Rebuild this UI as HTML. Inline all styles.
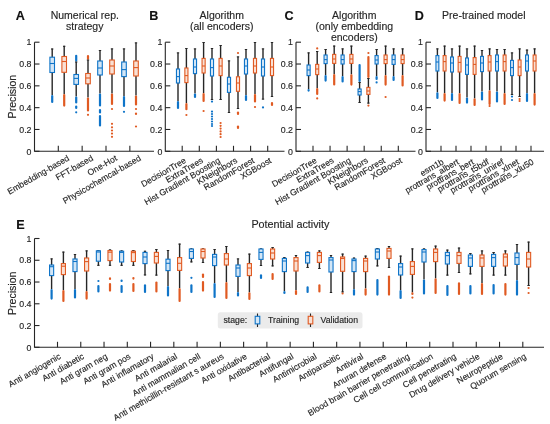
<!DOCTYPE html>
<html><head><meta charset="utf-8"><style>
html,body{margin:0;padding:0;background:#fff;}
svg{display:block;will-change:transform;}
text{font-family:"Liberation Sans",sans-serif;fill:#262626;stroke:#262626;stroke-width:0.15px;}
.tl{font-size:8.8px;}
.xl{font-size:8.6px;}
.ti{font-size:10.5px;}
.pl{font-size:12.6px;font-weight:bold;fill:#111;stroke:#111;}
.yl{font-size:10.6px;}
.lg{font-size:8.7px;}
</style></head><body>
<svg width="550" height="424" viewBox="0 0 550 424">
<text x="15.8" y="19.8" class="pl">A</text>
<text x="149.2" y="19.8" class="pl">B</text>
<text x="284.4" y="19.8" class="pl">C</text>
<text x="414.8" y="19.8" class="pl">D</text>
<text x="16.2" y="228.8" class="pl">E</text>
<text x="84.8" y="19.3" text-anchor="middle" class="ti">Numerical rep.</text>
<text x="84.8" y="29.9" text-anchor="middle" class="ti">strategy</text>
<text x="221.8" y="19.3" text-anchor="middle" class="ti">Algorithm</text>
<text x="221.8" y="29.9" text-anchor="middle" class="ti">(all encoders)</text>
<text x="354.3" y="19.3" text-anchor="middle" class="ti">Algorithm</text>
<text x="354.3" y="29.9" text-anchor="middle" class="ti">(only embedding</text>
<text x="354.3" y="40.5" text-anchor="middle" class="ti">encoders)</text>
<text x="483.8" y="19.3" text-anchor="middle" class="ti">Pre-trained model</text>
<text x="290.4" y="227.8" text-anchor="middle" class="ti" style="font-size:10.8px">Potential activity</text>
<text transform="translate(16,96.6) rotate(-90)" text-anchor="middle" class="yl">Precision</text>
<text transform="translate(16,293.3) rotate(-90)" text-anchor="middle" class="yl">Precision</text>
<path d="M34.5 42.2 V151.3 H154" fill="none" stroke="#262626" stroke-width="1.1"/>
<line x1="34.5" y1="151.30" x2="39.5" y2="151.30" stroke="#262626" stroke-width="1.1"/>
<text x="31.5" y="154.50" text-anchor="end" class="tl">0</text>
<line x1="34.5" y1="129.48" x2="39.5" y2="129.48" stroke="#262626" stroke-width="1.1"/>
<text x="31.5" y="132.68" text-anchor="end" class="tl">0.2</text>
<line x1="34.5" y1="107.66" x2="39.5" y2="107.66" stroke="#262626" stroke-width="1.1"/>
<text x="31.5" y="110.86" text-anchor="end" class="tl">0.4</text>
<line x1="34.5" y1="85.84" x2="39.5" y2="85.84" stroke="#262626" stroke-width="1.1"/>
<text x="31.5" y="89.04" text-anchor="end" class="tl">0.6</text>
<line x1="34.5" y1="64.02" x2="39.5" y2="64.02" stroke="#262626" stroke-width="1.1"/>
<text x="31.5" y="67.22" text-anchor="end" class="tl">0.8</text>
<line x1="34.5" y1="42.20" x2="39.5" y2="42.20" stroke="#262626" stroke-width="1.1"/>
<text x="31.5" y="45.40" text-anchor="end" class="tl">1</text>
<line x1="58.30" y1="151.3" x2="58.30" y2="145.8" stroke="#262626" stroke-width="1.1"/>
<line x1="82.15" y1="151.3" x2="82.15" y2="145.8" stroke="#262626" stroke-width="1.1"/>
<line x1="106.00" y1="151.3" x2="106.00" y2="145.8" stroke="#262626" stroke-width="1.1"/>
<line x1="129.85" y1="151.3" x2="129.85" y2="145.8" stroke="#262626" stroke-width="1.1"/>
<path d="M165.3 42.2 V151.3 H284.5" fill="none" stroke="#262626" stroke-width="1.1"/>
<line x1="165.3" y1="151.30" x2="170.3" y2="151.30" stroke="#262626" stroke-width="1.1"/>
<text x="162.3" y="154.50" text-anchor="end" class="tl">0</text>
<line x1="165.3" y1="129.48" x2="170.3" y2="129.48" stroke="#262626" stroke-width="1.1"/>
<text x="162.3" y="132.68" text-anchor="end" class="tl">0.2</text>
<line x1="165.3" y1="107.66" x2="170.3" y2="107.66" stroke="#262626" stroke-width="1.1"/>
<text x="162.3" y="110.86" text-anchor="end" class="tl">0.4</text>
<line x1="165.3" y1="85.84" x2="170.3" y2="85.84" stroke="#262626" stroke-width="1.1"/>
<text x="162.3" y="89.04" text-anchor="end" class="tl">0.6</text>
<line x1="165.3" y1="64.02" x2="170.3" y2="64.02" stroke="#262626" stroke-width="1.1"/>
<text x="162.3" y="67.22" text-anchor="end" class="tl">0.8</text>
<line x1="165.3" y1="42.20" x2="170.3" y2="42.20" stroke="#262626" stroke-width="1.1"/>
<text x="162.3" y="45.40" text-anchor="end" class="tl">1</text>
<line x1="182.20" y1="151.3" x2="182.20" y2="145.8" stroke="#262626" stroke-width="1.1"/>
<line x1="199.30" y1="151.3" x2="199.30" y2="145.8" stroke="#262626" stroke-width="1.1"/>
<line x1="216.40" y1="151.3" x2="216.40" y2="145.8" stroke="#262626" stroke-width="1.1"/>
<line x1="233.50" y1="151.3" x2="233.50" y2="145.8" stroke="#262626" stroke-width="1.1"/>
<line x1="250.60" y1="151.3" x2="250.60" y2="145.8" stroke="#262626" stroke-width="1.1"/>
<line x1="267.70" y1="151.3" x2="267.70" y2="145.8" stroke="#262626" stroke-width="1.1"/>
<path d="M296.0 42.2 V151.3 H415.5" fill="none" stroke="#262626" stroke-width="1.1"/>
<line x1="296.0" y1="151.30" x2="301.0" y2="151.30" stroke="#262626" stroke-width="1.1"/>
<text x="293.0" y="154.50" text-anchor="end" class="tl">0</text>
<line x1="296.0" y1="129.48" x2="301.0" y2="129.48" stroke="#262626" stroke-width="1.1"/>
<text x="293.0" y="132.68" text-anchor="end" class="tl">0.2</text>
<line x1="296.0" y1="107.66" x2="301.0" y2="107.66" stroke="#262626" stroke-width="1.1"/>
<text x="293.0" y="110.86" text-anchor="end" class="tl">0.4</text>
<line x1="296.0" y1="85.84" x2="301.0" y2="85.84" stroke="#262626" stroke-width="1.1"/>
<text x="293.0" y="89.04" text-anchor="end" class="tl">0.6</text>
<line x1="296.0" y1="64.02" x2="301.0" y2="64.02" stroke="#262626" stroke-width="1.1"/>
<text x="293.0" y="67.22" text-anchor="end" class="tl">0.8</text>
<line x1="296.0" y1="42.20" x2="301.0" y2="42.20" stroke="#262626" stroke-width="1.1"/>
<text x="293.0" y="45.40" text-anchor="end" class="tl">1</text>
<line x1="313.00" y1="151.3" x2="313.00" y2="145.8" stroke="#262626" stroke-width="1.1"/>
<line x1="330.06" y1="151.3" x2="330.06" y2="145.8" stroke="#262626" stroke-width="1.1"/>
<line x1="347.12" y1="151.3" x2="347.12" y2="145.8" stroke="#262626" stroke-width="1.1"/>
<line x1="364.18" y1="151.3" x2="364.18" y2="145.8" stroke="#262626" stroke-width="1.1"/>
<line x1="381.24" y1="151.3" x2="381.24" y2="145.8" stroke="#262626" stroke-width="1.1"/>
<line x1="398.30" y1="151.3" x2="398.30" y2="145.8" stroke="#262626" stroke-width="1.1"/>
<path d="M426.0 42.2 V151.3 H544" fill="none" stroke="#262626" stroke-width="1.1"/>
<line x1="426.0" y1="151.30" x2="431.0" y2="151.30" stroke="#262626" stroke-width="1.1"/>
<text x="423.0" y="154.50" text-anchor="end" class="tl">0</text>
<line x1="426.0" y1="129.48" x2="431.0" y2="129.48" stroke="#262626" stroke-width="1.1"/>
<text x="423.0" y="132.68" text-anchor="end" class="tl">0.2</text>
<line x1="426.0" y1="107.66" x2="431.0" y2="107.66" stroke="#262626" stroke-width="1.1"/>
<text x="423.0" y="110.86" text-anchor="end" class="tl">0.4</text>
<line x1="426.0" y1="85.84" x2="431.0" y2="85.84" stroke="#262626" stroke-width="1.1"/>
<text x="423.0" y="89.04" text-anchor="end" class="tl">0.6</text>
<line x1="426.0" y1="64.02" x2="431.0" y2="64.02" stroke="#262626" stroke-width="1.1"/>
<text x="423.0" y="67.22" text-anchor="end" class="tl">0.8</text>
<line x1="426.0" y1="42.20" x2="431.0" y2="42.20" stroke="#262626" stroke-width="1.1"/>
<text x="423.0" y="45.40" text-anchor="end" class="tl">1</text>
<line x1="441.00" y1="151.3" x2="441.00" y2="145.8" stroke="#262626" stroke-width="1.1"/>
<line x1="456.00" y1="151.3" x2="456.00" y2="145.8" stroke="#262626" stroke-width="1.1"/>
<line x1="471.00" y1="151.3" x2="471.00" y2="145.8" stroke="#262626" stroke-width="1.1"/>
<line x1="486.00" y1="151.3" x2="486.00" y2="145.8" stroke="#262626" stroke-width="1.1"/>
<line x1="501.00" y1="151.3" x2="501.00" y2="145.8" stroke="#262626" stroke-width="1.1"/>
<line x1="516.00" y1="151.3" x2="516.00" y2="145.8" stroke="#262626" stroke-width="1.1"/>
<line x1="531.00" y1="151.3" x2="531.00" y2="145.8" stroke="#262626" stroke-width="1.1"/>
<path d="M34.5 238.5 V347.3 H544" fill="none" stroke="#262626" stroke-width="1.1"/>
<line x1="34.5" y1="347.30" x2="39.5" y2="347.30" stroke="#262626" stroke-width="1.1"/>
<text x="31.5" y="350.50" text-anchor="end" class="tl">0</text>
<line x1="34.5" y1="325.54" x2="39.5" y2="325.54" stroke="#262626" stroke-width="1.1"/>
<text x="31.5" y="328.74" text-anchor="end" class="tl">0.2</text>
<line x1="34.5" y1="303.78" x2="39.5" y2="303.78" stroke="#262626" stroke-width="1.1"/>
<text x="31.5" y="306.98" text-anchor="end" class="tl">0.4</text>
<line x1="34.5" y1="282.02" x2="39.5" y2="282.02" stroke="#262626" stroke-width="1.1"/>
<text x="31.5" y="285.22" text-anchor="end" class="tl">0.6</text>
<line x1="34.5" y1="260.26" x2="39.5" y2="260.26" stroke="#262626" stroke-width="1.1"/>
<text x="31.5" y="263.46" text-anchor="end" class="tl">0.8</text>
<line x1="34.5" y1="238.50" x2="39.5" y2="238.50" stroke="#262626" stroke-width="1.1"/>
<text x="31.5" y="241.70" text-anchor="end" class="tl">1</text>
<line x1="57.50" y1="347.3" x2="57.50" y2="341.8" stroke="#262626" stroke-width="1.1"/>
<line x1="80.77" y1="347.3" x2="80.77" y2="341.8" stroke="#262626" stroke-width="1.1"/>
<line x1="104.03" y1="347.3" x2="104.03" y2="341.8" stroke="#262626" stroke-width="1.1"/>
<line x1="127.30" y1="347.3" x2="127.30" y2="341.8" stroke="#262626" stroke-width="1.1"/>
<line x1="150.56" y1="347.3" x2="150.56" y2="341.8" stroke="#262626" stroke-width="1.1"/>
<line x1="173.82" y1="347.3" x2="173.82" y2="341.8" stroke="#262626" stroke-width="1.1"/>
<line x1="197.09" y1="347.3" x2="197.09" y2="341.8" stroke="#262626" stroke-width="1.1"/>
<line x1="220.36" y1="347.3" x2="220.36" y2="341.8" stroke="#262626" stroke-width="1.1"/>
<line x1="243.62" y1="347.3" x2="243.62" y2="341.8" stroke="#262626" stroke-width="1.1"/>
<line x1="266.88" y1="347.3" x2="266.88" y2="341.8" stroke="#262626" stroke-width="1.1"/>
<line x1="290.15" y1="347.3" x2="290.15" y2="341.8" stroke="#262626" stroke-width="1.1"/>
<line x1="313.42" y1="347.3" x2="313.42" y2="341.8" stroke="#262626" stroke-width="1.1"/>
<line x1="336.68" y1="347.3" x2="336.68" y2="341.8" stroke="#262626" stroke-width="1.1"/>
<line x1="359.94" y1="347.3" x2="359.94" y2="341.8" stroke="#262626" stroke-width="1.1"/>
<line x1="383.21" y1="347.3" x2="383.21" y2="341.8" stroke="#262626" stroke-width="1.1"/>
<line x1="406.48" y1="347.3" x2="406.48" y2="341.8" stroke="#262626" stroke-width="1.1"/>
<line x1="429.74" y1="347.3" x2="429.74" y2="341.8" stroke="#262626" stroke-width="1.1"/>
<line x1="453.00" y1="347.3" x2="453.00" y2="341.8" stroke="#262626" stroke-width="1.1"/>
<line x1="476.27" y1="347.3" x2="476.27" y2="341.8" stroke="#262626" stroke-width="1.1"/>
<line x1="499.54" y1="347.3" x2="499.54" y2="341.8" stroke="#262626" stroke-width="1.1"/>
<line x1="522.80" y1="347.3" x2="522.80" y2="341.8" stroke="#262626" stroke-width="1.1"/>
<line x1="52.2" y1="48.5" x2="52.2" y2="57.2" stroke="#262626" stroke-width="1.4"/>
<line x1="52.2" y1="72.5" x2="52.2" y2="95" stroke="#262626" stroke-width="1.4"/>
<line x1="51.0" y1="49.0" x2="53.400000000000006" y2="49.0" stroke="#262626" stroke-width="1"/>
<line x1="52.2" y1="96.00" x2="52.2" y2="102.00" stroke="#0f74c8" stroke-width="2.2" stroke-linecap="round"/>
<rect x="49.90" y="57.2" width="4.60" height="15.30" fill="#d3e6f6" stroke="#0f74c8" stroke-width="1.1"/>
<line x1="49.90" y1="63.5" x2="54.50" y2="63.5" stroke="#0f74c8" stroke-width="1.1"/>
<line x1="64.2" y1="45.8" x2="64.2" y2="56.5" stroke="#262626" stroke-width="1.4"/>
<line x1="64.2" y1="72.3" x2="64.2" y2="94" stroke="#262626" stroke-width="1.4"/>
<line x1="63.0" y1="46.3" x2="65.4" y2="46.3" stroke="#262626" stroke-width="1"/>
<line x1="64.2" y1="95.00" x2="64.2" y2="105.60" stroke="#e05a22" stroke-width="2.2" stroke-linecap="round"/>
<rect x="61.90" y="56.5" width="4.60" height="15.80" fill="#f9e0d4" stroke="#e05a22" stroke-width="1.1"/>
<line x1="61.90" y1="61.5" x2="66.50" y2="61.5" stroke="#e05a22" stroke-width="1.1"/>
<line x1="76.2" y1="61.5" x2="76.2" y2="74.5" stroke="#262626" stroke-width="1.4"/>
<line x1="76.2" y1="84.4" x2="76.2" y2="96.5" stroke="#262626" stroke-width="1.4"/>
<line x1="75.0" y1="62.0" x2="77.4" y2="62.0" stroke="#262626" stroke-width="1"/>
<line x1="76.2" y1="97.50" x2="76.2" y2="102.50" stroke="#0f74c8" stroke-width="2.2" stroke-linecap="round"/>
<line x1="76.2" y1="106.50" x2="76.2" y2="108.00" stroke="#0f74c8" stroke-width="2.2" stroke-linecap="round"/>
<line x1="76.2" y1="55.80" x2="76.2" y2="60.50" stroke="#0f74c8" stroke-width="2.2" stroke-linecap="round"/>
<circle cx="76.2" cy="112.3" r="1.1" fill="#0f74c8"/>
<rect x="73.90" y="74.5" width="4.60" height="9.90" fill="#d3e6f6" stroke="#0f74c8" stroke-width="1.1"/>
<line x1="73.90" y1="78.4" x2="78.50" y2="78.4" stroke="#0f74c8" stroke-width="1.1"/>
<line x1="88.0" y1="59.5" x2="88.0" y2="73.5" stroke="#262626" stroke-width="1.4"/>
<line x1="88.0" y1="83.8" x2="88.0" y2="97.5" stroke="#262626" stroke-width="1.4"/>
<line x1="86.8" y1="60.0" x2="89.2" y2="60.0" stroke="#262626" stroke-width="1"/>
<line x1="88.0" y1="98.50" x2="88.0" y2="110.50" stroke="#e05a22" stroke-width="2.2" stroke-linecap="round"/>
<line x1="88.0" y1="56.00" x2="88.0" y2="58.50" stroke="#e05a22" stroke-width="2.2" stroke-linecap="round"/>
<circle cx="88.0" cy="114.8" r="1.1" fill="#e05a22"/>
<rect x="85.70" y="73.5" width="4.60" height="10.30" fill="#f9e0d4" stroke="#e05a22" stroke-width="1.1"/>
<line x1="85.70" y1="78.0" x2="90.30" y2="78.0" stroke="#e05a22" stroke-width="1.1"/>
<line x1="100.0" y1="50" x2="100.0" y2="61" stroke="#262626" stroke-width="1.4"/>
<line x1="100.0" y1="75" x2="100.0" y2="93.5" stroke="#262626" stroke-width="1.4"/>
<line x1="98.8" y1="50.5" x2="101.2" y2="50.5" stroke="#262626" stroke-width="1"/>
<line x1="100.0" y1="94.50" x2="100.0" y2="105.50" stroke="#0f74c8" stroke-width="2.2" stroke-linecap="round"/>
<line x1="100.0" y1="110.00" x2="100.0" y2="112.50" stroke="#0f74c8" stroke-width="2.2" stroke-linecap="round"/>
<line x1="100.0" y1="116.00" x2="100.0" y2="125.50" stroke="#0f74c8" stroke-width="2.2" stroke-linecap="round"/>
<rect x="97.70" y="61" width="4.60" height="14.00" fill="#d3e6f6" stroke="#0f74c8" stroke-width="1.1"/>
<line x1="97.70" y1="68" x2="102.30" y2="68" stroke="#0f74c8" stroke-width="1.1"/>
<line x1="112.0" y1="48.4" x2="112.0" y2="60" stroke="#262626" stroke-width="1.4"/>
<line x1="112.0" y1="74" x2="112.0" y2="93.5" stroke="#262626" stroke-width="1.4"/>
<line x1="110.8" y1="48.9" x2="113.2" y2="48.9" stroke="#262626" stroke-width="1"/>
<line x1="112.0" y1="94.50" x2="112.0" y2="104.00" stroke="#e05a22" stroke-width="2.2" stroke-linecap="round"/>
<circle cx="112.0" cy="109" r="1.1" fill="#e05a22"/>
<circle cx="112.0" cy="123.8" r="1.1" fill="#e05a22"/>
<circle cx="112.0" cy="127.3" r="1.1" fill="#e05a22"/>
<circle cx="112.0" cy="130.5" r="1.1" fill="#e05a22"/>
<circle cx="112.0" cy="133.6" r="1.1" fill="#e05a22"/>
<circle cx="112.0" cy="136.8" r="1.1" fill="#e05a22"/>
<rect x="109.70" y="60" width="4.60" height="14.00" fill="#f9e0d4" stroke="#e05a22" stroke-width="1.1"/>
<line x1="109.70" y1="66" x2="114.30" y2="66" stroke="#e05a22" stroke-width="1.1"/>
<line x1="124.0" y1="48.4" x2="124.0" y2="62" stroke="#262626" stroke-width="1.4"/>
<line x1="124.0" y1="76.6" x2="124.0" y2="96" stroke="#262626" stroke-width="1.4"/>
<line x1="122.8" y1="48.9" x2="125.2" y2="48.9" stroke="#262626" stroke-width="1"/>
<line x1="124.0" y1="97.00" x2="124.0" y2="106.00" stroke="#0f74c8" stroke-width="2.2" stroke-linecap="round"/>
<circle cx="124.0" cy="111.8" r="1.1" fill="#0f74c8"/>
<rect x="121.70" y="62" width="4.60" height="14.60" fill="#d3e6f6" stroke="#0f74c8" stroke-width="1.1"/>
<line x1="121.70" y1="69.6" x2="126.30" y2="69.6" stroke="#0f74c8" stroke-width="1.1"/>
<line x1="136.0" y1="42.4" x2="136.0" y2="61" stroke="#262626" stroke-width="1.4"/>
<line x1="136.0" y1="76" x2="136.0" y2="95.6" stroke="#262626" stroke-width="1.4"/>
<line x1="134.8" y1="42.9" x2="137.2" y2="42.9" stroke="#262626" stroke-width="1"/>
<line x1="136.0" y1="96.60" x2="136.0" y2="104.50" stroke="#e05a22" stroke-width="2.2" stroke-linecap="round"/>
<line x1="136.0" y1="113.50" x2="136.0" y2="114.00" stroke="#e05a22" stroke-width="2.2" stroke-linecap="round"/>
<circle cx="136.0" cy="109" r="1.1" fill="#e05a22"/>
<circle cx="136.0" cy="126.5" r="1.1" fill="#e05a22"/>
<rect x="133.70" y="61" width="4.60" height="15.00" fill="#f9e0d4" stroke="#e05a22" stroke-width="1.1"/>
<line x1="133.70" y1="67.6" x2="138.30" y2="67.6" stroke="#e05a22" stroke-width="1.1"/>
<line x1="178.0" y1="52.4" x2="178.0" y2="69" stroke="#262626" stroke-width="1.4"/>
<line x1="178.0" y1="83" x2="178.0" y2="101" stroke="#262626" stroke-width="1.4"/>
<line x1="176.8" y1="52.9" x2="179.2" y2="52.9" stroke="#262626" stroke-width="1"/>
<line x1="178.0" y1="102.00" x2="178.0" y2="108.00" stroke="#0f74c8" stroke-width="2.2" stroke-linecap="round"/>
<rect x="176.45" y="69" width="3.10" height="14.00" fill="#d3e6f6" stroke="#0f74c8" stroke-width="1.1"/>
<line x1="176.45" y1="76.6" x2="179.55" y2="76.6" stroke="#0f74c8" stroke-width="1.1"/>
<line x1="186.4" y1="48" x2="186.4" y2="68" stroke="#262626" stroke-width="1.4"/>
<line x1="186.4" y1="82.6" x2="186.4" y2="103" stroke="#262626" stroke-width="1.4"/>
<line x1="185.20000000000002" y1="48.5" x2="187.6" y2="48.5" stroke="#262626" stroke-width="1"/>
<line x1="186.4" y1="104.00" x2="186.4" y2="109.20" stroke="#e05a22" stroke-width="2.2" stroke-linecap="round"/>
<circle cx="186.4" cy="115" r="1.1" fill="#e05a22"/>
<rect x="184.85" y="68" width="3.10" height="14.60" fill="#f9e0d4" stroke="#e05a22" stroke-width="1.1"/>
<line x1="184.85" y1="75.6" x2="187.95" y2="75.6" stroke="#e05a22" stroke-width="1.1"/>
<line x1="195.0" y1="48.4" x2="195.0" y2="59" stroke="#262626" stroke-width="1.4"/>
<line x1="195.0" y1="73.6" x2="195.0" y2="93.6" stroke="#262626" stroke-width="1.4"/>
<line x1="193.8" y1="48.9" x2="196.2" y2="48.9" stroke="#262626" stroke-width="1"/>
<line x1="195.0" y1="94.60" x2="195.0" y2="97.00" stroke="#0f74c8" stroke-width="2.2" stroke-linecap="round"/>
<rect x="193.45" y="59" width="3.10" height="14.60" fill="#d3e6f6" stroke="#0f74c8" stroke-width="1.1"/>
<line x1="193.45" y1="67" x2="196.55" y2="67" stroke="#0f74c8" stroke-width="1.1"/>
<line x1="203.6" y1="42" x2="203.6" y2="58.4" stroke="#262626" stroke-width="1.4"/>
<line x1="203.6" y1="73" x2="203.6" y2="93" stroke="#262626" stroke-width="1.4"/>
<line x1="202.4" y1="42.5" x2="204.79999999999998" y2="42.5" stroke="#262626" stroke-width="1"/>
<line x1="203.6" y1="94.00" x2="203.6" y2="101.00" stroke="#e05a22" stroke-width="2.2" stroke-linecap="round"/>
<circle cx="203.6" cy="111" r="1.1" fill="#e05a22"/>
<rect x="202.05" y="58.4" width="3.10" height="14.60" fill="#f9e0d4" stroke="#e05a22" stroke-width="1.1"/>
<line x1="202.05" y1="66" x2="205.15" y2="66" stroke="#e05a22" stroke-width="1.1"/>
<line x1="212.0" y1="48" x2="212.0" y2="59" stroke="#262626" stroke-width="1.4"/>
<line x1="212.0" y1="76" x2="212.0" y2="100" stroke="#262626" stroke-width="1.4"/>
<line x1="210.8" y1="48.5" x2="213.2" y2="48.5" stroke="#262626" stroke-width="1"/>
<line x1="210.8" y1="99.5" x2="213.2" y2="99.5" stroke="#262626" stroke-width="1"/>
<circle cx="212.0" cy="101.6" r="1.1" fill="#0f74c8"/>
<circle cx="212.0" cy="111.6" r="1.1" fill="#0f74c8"/>
<circle cx="212.0" cy="114" r="1.1" fill="#0f74c8"/>
<circle cx="212.0" cy="116.5" r="1.1" fill="#0f74c8"/>
<circle cx="212.0" cy="119" r="1.1" fill="#0f74c8"/>
<circle cx="212.0" cy="121.5" r="1.1" fill="#0f74c8"/>
<circle cx="212.0" cy="124" r="1.1" fill="#0f74c8"/>
<circle cx="212.0" cy="126" r="1.1" fill="#0f74c8"/>
<rect x="210.45" y="59" width="3.10" height="17.00" fill="#d3e6f6" stroke="#0f74c8" stroke-width="1.1"/>
<line x1="210.45" y1="67.6" x2="213.55" y2="67.6" stroke="#0f74c8" stroke-width="1.1"/>
<line x1="220.6" y1="45" x2="220.6" y2="58.4" stroke="#262626" stroke-width="1.4"/>
<line x1="220.6" y1="75.6" x2="220.6" y2="100" stroke="#262626" stroke-width="1.4"/>
<line x1="219.4" y1="45.5" x2="221.79999999999998" y2="45.5" stroke="#262626" stroke-width="1"/>
<line x1="219.4" y1="99.5" x2="221.79999999999998" y2="99.5" stroke="#262626" stroke-width="1"/>
<circle cx="220.6" cy="123" r="1.1" fill="#e05a22"/>
<circle cx="220.6" cy="125.8" r="1.1" fill="#e05a22"/>
<circle cx="220.6" cy="128.6" r="1.1" fill="#e05a22"/>
<circle cx="220.6" cy="131.4" r="1.1" fill="#e05a22"/>
<circle cx="220.6" cy="134.2" r="1.1" fill="#e05a22"/>
<circle cx="220.6" cy="137" r="1.1" fill="#e05a22"/>
<rect x="219.05" y="58.4" width="3.10" height="17.20" fill="#f9e0d4" stroke="#e05a22" stroke-width="1.1"/>
<line x1="219.05" y1="66" x2="222.15" y2="66" stroke="#e05a22" stroke-width="1.1"/>
<line x1="229.0" y1="60.4" x2="229.0" y2="77.3" stroke="#262626" stroke-width="1.4"/>
<line x1="229.0" y1="92.4" x2="229.0" y2="113" stroke="#262626" stroke-width="1.4"/>
<line x1="227.8" y1="60.9" x2="230.2" y2="60.9" stroke="#262626" stroke-width="1"/>
<line x1="227.8" y1="112.5" x2="230.2" y2="112.5" stroke="#262626" stroke-width="1"/>
<rect x="227.45" y="77.3" width="3.10" height="15.10" fill="#d3e6f6" stroke="#0f74c8" stroke-width="1.1"/>
<line x1="227.45" y1="84" x2="230.55" y2="84" stroke="#0f74c8" stroke-width="1.1"/>
<line x1="238.0" y1="56.4" x2="238.0" y2="76.8" stroke="#262626" stroke-width="1.4"/>
<line x1="238.0" y1="91.3" x2="238.0" y2="109" stroke="#262626" stroke-width="1.4"/>
<line x1="236.8" y1="56.9" x2="239.2" y2="56.9" stroke="#262626" stroke-width="1"/>
<line x1="236.8" y1="108.5" x2="239.2" y2="108.5" stroke="#262626" stroke-width="1"/>
<line x1="238.0" y1="112.60" x2="238.0" y2="114.00" stroke="#e05a22" stroke-width="2.2" stroke-linecap="round"/>
<line x1="238.0" y1="126.60" x2="238.0" y2="128.00" stroke="#e05a22" stroke-width="2.2" stroke-linecap="round"/>
<circle cx="238.0" cy="53" r="1.1" fill="#e05a22"/>
<rect x="236.45" y="76.8" width="3.10" height="14.50" fill="#f9e0d4" stroke="#e05a22" stroke-width="1.1"/>
<line x1="236.45" y1="83" x2="239.55" y2="83" stroke="#e05a22" stroke-width="1.1"/>
<line x1="246.0" y1="49" x2="246.0" y2="59" stroke="#262626" stroke-width="1.4"/>
<line x1="246.0" y1="74" x2="246.0" y2="95" stroke="#262626" stroke-width="1.4"/>
<line x1="244.8" y1="49.5" x2="247.2" y2="49.5" stroke="#262626" stroke-width="1"/>
<line x1="246.0" y1="96.00" x2="246.0" y2="100.00" stroke="#0f74c8" stroke-width="2.2" stroke-linecap="round"/>
<rect x="244.45" y="59" width="3.10" height="15.00" fill="#d3e6f6" stroke="#0f74c8" stroke-width="1.1"/>
<line x1="244.45" y1="66" x2="247.55" y2="66" stroke="#0f74c8" stroke-width="1.1"/>
<line x1="255.0" y1="42" x2="255.0" y2="58.4" stroke="#262626" stroke-width="1.4"/>
<line x1="255.0" y1="73" x2="255.0" y2="94" stroke="#262626" stroke-width="1.4"/>
<line x1="253.8" y1="42.5" x2="256.2" y2="42.5" stroke="#262626" stroke-width="1"/>
<line x1="255.0" y1="95.00" x2="255.0" y2="101.40" stroke="#e05a22" stroke-width="2.2" stroke-linecap="round"/>
<circle cx="255.0" cy="107" r="1.1" fill="#e05a22"/>
<rect x="253.45" y="58.4" width="3.10" height="14.60" fill="#f9e0d4" stroke="#e05a22" stroke-width="1.1"/>
<line x1="253.45" y1="66" x2="256.55" y2="66" stroke="#e05a22" stroke-width="1.1"/>
<line x1="263.0" y1="48.4" x2="263.0" y2="59" stroke="#262626" stroke-width="1.4"/>
<line x1="263.0" y1="76" x2="263.0" y2="99.6" stroke="#262626" stroke-width="1.4"/>
<line x1="261.8" y1="48.9" x2="264.2" y2="48.9" stroke="#262626" stroke-width="1"/>
<line x1="261.8" y1="99.1" x2="264.2" y2="99.1" stroke="#262626" stroke-width="1"/>
<circle cx="263.0" cy="107.4" r="1.1" fill="#0f74c8"/>
<rect x="261.45" y="59" width="3.10" height="17.00" fill="#d3e6f6" stroke="#0f74c8" stroke-width="1.1"/>
<line x1="261.45" y1="67" x2="264.55" y2="67" stroke="#0f74c8" stroke-width="1.1"/>
<line x1="272.0" y1="42" x2="272.0" y2="58.4" stroke="#262626" stroke-width="1.4"/>
<line x1="272.0" y1="75.6" x2="272.0" y2="97" stroke="#262626" stroke-width="1.4"/>
<line x1="270.8" y1="42.5" x2="273.2" y2="42.5" stroke="#262626" stroke-width="1"/>
<line x1="270.8" y1="96.5" x2="273.2" y2="96.5" stroke="#262626" stroke-width="1"/>
<line x1="272.0" y1="103.00" x2="272.0" y2="105.00" stroke="#e05a22" stroke-width="2.2" stroke-linecap="round"/>
<rect x="270.45" y="58.4" width="3.10" height="17.20" fill="#f9e0d4" stroke="#e05a22" stroke-width="1.1"/>
<line x1="270.45" y1="67" x2="273.55" y2="67" stroke="#e05a22" stroke-width="1.1"/>
<line x1="308.6" y1="52.4" x2="308.6" y2="65" stroke="#262626" stroke-width="1.4"/>
<line x1="308.6" y1="75.6" x2="308.6" y2="89" stroke="#262626" stroke-width="1.4"/>
<line x1="307.40000000000003" y1="52.9" x2="309.8" y2="52.9" stroke="#262626" stroke-width="1"/>
<line x1="308.6" y1="90.00" x2="308.6" y2="90.60" stroke="#0f74c8" stroke-width="2.2" stroke-linecap="round"/>
<rect x="307.05" y="65" width="3.10" height="10.60" fill="#d3e6f6" stroke="#0f74c8" stroke-width="1.1"/>
<line x1="307.05" y1="70" x2="310.15" y2="70" stroke="#0f74c8" stroke-width="1.1"/>
<line x1="317.2" y1="51" x2="317.2" y2="64.4" stroke="#262626" stroke-width="1.4"/>
<line x1="317.2" y1="74.6" x2="317.2" y2="88" stroke="#262626" stroke-width="1.4"/>
<line x1="316.0" y1="51.5" x2="318.4" y2="51.5" stroke="#262626" stroke-width="1"/>
<line x1="317.2" y1="89.00" x2="317.2" y2="94.00" stroke="#e05a22" stroke-width="2.2" stroke-linecap="round"/>
<circle cx="317.2" cy="98.4" r="1.1" fill="#e05a22"/>
<circle cx="317.2" cy="48.4" r="1.1" fill="#e05a22"/>
<rect x="315.65" y="64.4" width="3.10" height="10.20" fill="#f9e0d4" stroke="#e05a22" stroke-width="1.1"/>
<line x1="315.65" y1="69" x2="318.75" y2="69" stroke="#e05a22" stroke-width="1.1"/>
<line x1="325.6" y1="49" x2="325.6" y2="55" stroke="#262626" stroke-width="1.4"/>
<line x1="325.6" y1="63.6" x2="325.6" y2="75" stroke="#262626" stroke-width="1.4"/>
<line x1="324.40000000000003" y1="49.5" x2="326.8" y2="49.5" stroke="#262626" stroke-width="1"/>
<line x1="325.6" y1="76.00" x2="325.6" y2="80.60" stroke="#0f74c8" stroke-width="2.2" stroke-linecap="round"/>
<rect x="324.05" y="55" width="3.10" height="8.60" fill="#d3e6f6" stroke="#0f74c8" stroke-width="1.1"/>
<line x1="324.05" y1="59.6" x2="327.15" y2="59.6" stroke="#0f74c8" stroke-width="1.1"/>
<line x1="334.2" y1="45.6" x2="334.2" y2="54.4" stroke="#262626" stroke-width="1.4"/>
<line x1="334.2" y1="63.4" x2="334.2" y2="74" stroke="#262626" stroke-width="1.4"/>
<line x1="333.0" y1="46.1" x2="335.4" y2="46.1" stroke="#262626" stroke-width="1"/>
<line x1="334.2" y1="75.00" x2="334.2" y2="84.50" stroke="#e05a22" stroke-width="2.2" stroke-linecap="round"/>
<rect x="332.65" y="54.4" width="3.10" height="9.00" fill="#f9e0d4" stroke="#e05a22" stroke-width="1.1"/>
<line x1="332.65" y1="59" x2="335.75" y2="59" stroke="#e05a22" stroke-width="1.1"/>
<line x1="342.6" y1="48.4" x2="342.6" y2="55" stroke="#262626" stroke-width="1.4"/>
<line x1="342.6" y1="64" x2="342.6" y2="76" stroke="#262626" stroke-width="1.4"/>
<line x1="341.40000000000003" y1="48.9" x2="343.8" y2="48.9" stroke="#262626" stroke-width="1"/>
<line x1="342.6" y1="77.00" x2="342.6" y2="81.40" stroke="#0f74c8" stroke-width="2.2" stroke-linecap="round"/>
<rect x="341.05" y="55" width="3.10" height="9.00" fill="#d3e6f6" stroke="#0f74c8" stroke-width="1.1"/>
<line x1="341.05" y1="59.6" x2="344.15" y2="59.6" stroke="#0f74c8" stroke-width="1.1"/>
<line x1="351.4" y1="45.6" x2="351.4" y2="54.4" stroke="#262626" stroke-width="1.4"/>
<line x1="351.4" y1="63.4" x2="351.4" y2="74.4" stroke="#262626" stroke-width="1.4"/>
<line x1="350.2" y1="46.1" x2="352.59999999999997" y2="46.1" stroke="#262626" stroke-width="1"/>
<line x1="351.4" y1="75.40" x2="351.4" y2="84.60" stroke="#e05a22" stroke-width="2.2" stroke-linecap="round"/>
<rect x="349.85" y="54.4" width="3.10" height="9.00" fill="#f9e0d4" stroke="#e05a22" stroke-width="1.1"/>
<line x1="349.85" y1="59" x2="352.95" y2="59" stroke="#e05a22" stroke-width="1.1"/>
<line x1="359.6" y1="82" x2="359.6" y2="89" stroke="#262626" stroke-width="1.4"/>
<line x1="359.6" y1="95" x2="359.6" y2="103" stroke="#262626" stroke-width="1.4"/>
<line x1="358.40000000000003" y1="82.5" x2="360.8" y2="82.5" stroke="#262626" stroke-width="1"/>
<line x1="358.40000000000003" y1="102.5" x2="360.8" y2="102.5" stroke="#262626" stroke-width="1"/>
<line x1="359.6" y1="65.00" x2="359.6" y2="81.00" stroke="#0f74c8" stroke-width="2.2" stroke-linecap="round"/>
<rect x="358.05" y="89" width="3.10" height="6.00" fill="#d3e6f6" stroke="#0f74c8" stroke-width="1.1"/>
<line x1="358.05" y1="91.6" x2="361.15" y2="91.6" stroke="#0f74c8" stroke-width="1.1"/>
<line x1="368.4" y1="78" x2="368.4" y2="87.4" stroke="#262626" stroke-width="1.4"/>
<line x1="368.4" y1="94.4" x2="368.4" y2="103.6" stroke="#262626" stroke-width="1.4"/>
<line x1="367.2" y1="78.5" x2="369.59999999999997" y2="78.5" stroke="#262626" stroke-width="1"/>
<line x1="367.2" y1="103.1" x2="369.59999999999997" y2="103.1" stroke="#262626" stroke-width="1"/>
<line x1="368.4" y1="57.00" x2="368.4" y2="77.00" stroke="#e05a22" stroke-width="2.2" stroke-linecap="round"/>
<circle cx="368.4" cy="105.6" r="1.1" fill="#e05a22"/>
<circle cx="368.4" cy="53" r="1.1" fill="#e05a22"/>
<rect x="366.85" y="87.4" width="3.10" height="7.00" fill="#f9e0d4" stroke="#e05a22" stroke-width="1.1"/>
<line x1="366.85" y1="91" x2="369.95" y2="91" stroke="#e05a22" stroke-width="1.1"/>
<line x1="376.6" y1="49" x2="376.6" y2="55.6" stroke="#262626" stroke-width="1.4"/>
<line x1="376.6" y1="64" x2="376.6" y2="76" stroke="#262626" stroke-width="1.4"/>
<line x1="375.40000000000003" y1="49.5" x2="377.8" y2="49.5" stroke="#262626" stroke-width="1"/>
<line x1="376.6" y1="77.00" x2="376.6" y2="79.00" stroke="#0f74c8" stroke-width="2.2" stroke-linecap="round"/>
<circle cx="376.6" cy="82.4" r="1.1" fill="#0f74c8"/>
<rect x="375.05" y="55.6" width="3.10" height="8.40" fill="#d3e6f6" stroke="#0f74c8" stroke-width="1.1"/>
<line x1="375.05" y1="60" x2="378.15" y2="60" stroke="#0f74c8" stroke-width="1.1"/>
<line x1="385.6" y1="45.6" x2="385.6" y2="55" stroke="#262626" stroke-width="1.4"/>
<line x1="385.6" y1="63.6" x2="385.6" y2="75" stroke="#262626" stroke-width="1.4"/>
<line x1="384.40000000000003" y1="46.1" x2="386.8" y2="46.1" stroke="#262626" stroke-width="1"/>
<line x1="385.6" y1="76.00" x2="385.6" y2="84.60" stroke="#e05a22" stroke-width="2.2" stroke-linecap="round"/>
<circle cx="385.6" cy="97" r="1.1" fill="#e05a22"/>
<rect x="384.05" y="55" width="3.10" height="8.60" fill="#f9e0d4" stroke="#e05a22" stroke-width="1.1"/>
<line x1="384.05" y1="59.6" x2="387.15" y2="59.6" stroke="#e05a22" stroke-width="1.1"/>
<line x1="393.6" y1="48.4" x2="393.6" y2="55" stroke="#262626" stroke-width="1.4"/>
<line x1="393.6" y1="64.4" x2="393.6" y2="76" stroke="#262626" stroke-width="1.4"/>
<line x1="392.40000000000003" y1="48.9" x2="394.8" y2="48.9" stroke="#262626" stroke-width="1"/>
<line x1="393.6" y1="77.00" x2="393.6" y2="80.00" stroke="#0f74c8" stroke-width="2.2" stroke-linecap="round"/>
<rect x="392.05" y="55" width="3.10" height="9.40" fill="#d3e6f6" stroke="#0f74c8" stroke-width="1.1"/>
<line x1="392.05" y1="59.6" x2="395.15" y2="59.6" stroke="#0f74c8" stroke-width="1.1"/>
<line x1="402.6" y1="48.4" x2="402.6" y2="55" stroke="#262626" stroke-width="1.4"/>
<line x1="402.6" y1="63.6" x2="402.6" y2="75" stroke="#262626" stroke-width="1.4"/>
<line x1="401.40000000000003" y1="48.9" x2="403.8" y2="48.9" stroke="#262626" stroke-width="1"/>
<line x1="402.6" y1="76.00" x2="402.6" y2="85.40" stroke="#e05a22" stroke-width="2.2" stroke-linecap="round"/>
<rect x="401.05" y="55" width="3.10" height="8.60" fill="#f9e0d4" stroke="#e05a22" stroke-width="1.1"/>
<line x1="401.05" y1="59.6" x2="404.15" y2="59.6" stroke="#e05a22" stroke-width="1.1"/>
<line x1="437.4" y1="48.4" x2="437.4" y2="55.6" stroke="#262626" stroke-width="1.4"/>
<line x1="437.4" y1="71" x2="437.4" y2="92.4" stroke="#262626" stroke-width="1.4"/>
<line x1="436.2" y1="48.9" x2="438.59999999999997" y2="48.9" stroke="#262626" stroke-width="1"/>
<line x1="437.4" y1="93.40" x2="437.4" y2="98.00" stroke="#0f74c8" stroke-width="2.2" stroke-linecap="round"/>
<rect x="435.95" y="55.6" width="2.90" height="15.40" fill="#d3e6f6" stroke="#0f74c8" stroke-width="1.1"/>
<line x1="435.95" y1="62" x2="438.85" y2="62" stroke="#0f74c8" stroke-width="1.1"/>
<line x1="444.6" y1="45.6" x2="444.6" y2="55.6" stroke="#262626" stroke-width="1.4"/>
<line x1="444.6" y1="71" x2="444.6" y2="93" stroke="#262626" stroke-width="1.4"/>
<line x1="443.40000000000003" y1="46.1" x2="445.8" y2="46.1" stroke="#262626" stroke-width="1"/>
<line x1="444.6" y1="94.00" x2="444.6" y2="100.60" stroke="#e05a22" stroke-width="2.2" stroke-linecap="round"/>
<rect x="443.15" y="55.6" width="2.90" height="15.40" fill="#f9e0d4" stroke="#e05a22" stroke-width="1.1"/>
<line x1="443.15" y1="61.6" x2="446.05" y2="61.6" stroke="#e05a22" stroke-width="1.1"/>
<line x1="452.0" y1="48.4" x2="452.0" y2="57" stroke="#262626" stroke-width="1.4"/>
<line x1="452.0" y1="72" x2="452.0" y2="93" stroke="#262626" stroke-width="1.4"/>
<line x1="450.8" y1="48.9" x2="453.2" y2="48.9" stroke="#262626" stroke-width="1"/>
<line x1="452.0" y1="94.00" x2="452.0" y2="100.00" stroke="#0f74c8" stroke-width="2.2" stroke-linecap="round"/>
<rect x="450.55" y="57" width="2.90" height="15.00" fill="#d3e6f6" stroke="#0f74c8" stroke-width="1.1"/>
<line x1="450.55" y1="63" x2="453.45" y2="63" stroke="#0f74c8" stroke-width="1.1"/>
<line x1="459.6" y1="45.6" x2="459.6" y2="56.4" stroke="#262626" stroke-width="1.4"/>
<line x1="459.6" y1="72" x2="459.6" y2="93" stroke="#262626" stroke-width="1.4"/>
<line x1="458.40000000000003" y1="46.1" x2="460.8" y2="46.1" stroke="#262626" stroke-width="1"/>
<line x1="459.6" y1="94.00" x2="459.6" y2="103.00" stroke="#e05a22" stroke-width="2.2" stroke-linecap="round"/>
<rect x="458.15" y="56.4" width="2.90" height="15.60" fill="#f9e0d4" stroke="#e05a22" stroke-width="1.1"/>
<line x1="458.15" y1="62.4" x2="461.05" y2="62.4" stroke="#e05a22" stroke-width="1.1"/>
<line x1="467.0" y1="48.4" x2="467.0" y2="58" stroke="#262626" stroke-width="1.4"/>
<line x1="467.0" y1="74.4" x2="467.0" y2="97.6" stroke="#262626" stroke-width="1.4"/>
<line x1="465.8" y1="48.9" x2="468.2" y2="48.9" stroke="#262626" stroke-width="1"/>
<line x1="467.0" y1="98.60" x2="467.0" y2="102.60" stroke="#0f74c8" stroke-width="2.2" stroke-linecap="round"/>
<rect x="465.55" y="58" width="2.90" height="16.40" fill="#d3e6f6" stroke="#0f74c8" stroke-width="1.1"/>
<line x1="465.55" y1="65" x2="468.45" y2="65" stroke="#0f74c8" stroke-width="1.1"/>
<line x1="474.6" y1="45.6" x2="474.6" y2="57.6" stroke="#262626" stroke-width="1.4"/>
<line x1="474.6" y1="74.4" x2="474.6" y2="98.4" stroke="#262626" stroke-width="1.4"/>
<line x1="473.40000000000003" y1="46.1" x2="475.8" y2="46.1" stroke="#262626" stroke-width="1"/>
<line x1="474.6" y1="99.40" x2="474.6" y2="105.00" stroke="#e05a22" stroke-width="2.2" stroke-linecap="round"/>
<rect x="473.15" y="57.6" width="2.90" height="16.80" fill="#f9e0d4" stroke="#e05a22" stroke-width="1.1"/>
<line x1="473.15" y1="64.4" x2="476.05" y2="64.4" stroke="#e05a22" stroke-width="1.1"/>
<line x1="482.0" y1="50" x2="482.0" y2="56.4" stroke="#262626" stroke-width="1.4"/>
<line x1="482.0" y1="71.6" x2="482.0" y2="91.6" stroke="#262626" stroke-width="1.4"/>
<line x1="480.8" y1="50.5" x2="483.2" y2="50.5" stroke="#262626" stroke-width="1"/>
<line x1="482.0" y1="92.60" x2="482.0" y2="99.40" stroke="#0f74c8" stroke-width="2.2" stroke-linecap="round"/>
<rect x="480.55" y="56.4" width="2.90" height="15.20" fill="#d3e6f6" stroke="#0f74c8" stroke-width="1.1"/>
<line x1="480.55" y1="63" x2="483.45" y2="63" stroke="#0f74c8" stroke-width="1.1"/>
<line x1="489.6" y1="48.4" x2="489.6" y2="55.6" stroke="#262626" stroke-width="1.4"/>
<line x1="489.6" y1="71" x2="489.6" y2="90.4" stroke="#262626" stroke-width="1.4"/>
<line x1="488.40000000000003" y1="48.9" x2="490.8" y2="48.9" stroke="#262626" stroke-width="1"/>
<line x1="489.6" y1="91.40" x2="489.6" y2="104.00" stroke="#e05a22" stroke-width="2.2" stroke-linecap="round"/>
<circle cx="489.6" cy="106" r="1.1" fill="#e05a22"/>
<rect x="488.15" y="55.6" width="2.90" height="15.40" fill="#f9e0d4" stroke="#e05a22" stroke-width="1.1"/>
<line x1="488.15" y1="62" x2="491.05" y2="62" stroke="#e05a22" stroke-width="1.1"/>
<line x1="497.0" y1="49" x2="497.0" y2="55" stroke="#262626" stroke-width="1.4"/>
<line x1="497.0" y1="71" x2="497.0" y2="91.6" stroke="#262626" stroke-width="1.4"/>
<line x1="495.8" y1="49.5" x2="498.2" y2="49.5" stroke="#262626" stroke-width="1"/>
<line x1="497.0" y1="92.60" x2="497.0" y2="101.40" stroke="#0f74c8" stroke-width="2.2" stroke-linecap="round"/>
<rect x="495.55" y="55" width="2.90" height="16.00" fill="#d3e6f6" stroke="#0f74c8" stroke-width="1.1"/>
<line x1="495.55" y1="61.6" x2="498.45" y2="61.6" stroke="#0f74c8" stroke-width="1.1"/>
<line x1="504.6" y1="49" x2="504.6" y2="55" stroke="#262626" stroke-width="1.4"/>
<line x1="504.6" y1="71" x2="504.6" y2="93" stroke="#262626" stroke-width="1.4"/>
<line x1="503.40000000000003" y1="49.5" x2="505.8" y2="49.5" stroke="#262626" stroke-width="1"/>
<line x1="504.6" y1="94.00" x2="504.6" y2="104.00" stroke="#e05a22" stroke-width="2.2" stroke-linecap="round"/>
<rect x="503.15" y="55" width="2.90" height="16.00" fill="#f9e0d4" stroke="#e05a22" stroke-width="1.1"/>
<line x1="503.15" y1="61.6" x2="506.05" y2="61.6" stroke="#e05a22" stroke-width="1.1"/>
<line x1="512.0" y1="52.4" x2="512.0" y2="60.4" stroke="#262626" stroke-width="1.4"/>
<line x1="512.0" y1="75.6" x2="512.0" y2="95" stroke="#262626" stroke-width="1.4"/>
<line x1="510.8" y1="52.9" x2="513.2" y2="52.9" stroke="#262626" stroke-width="1"/>
<line x1="510.8" y1="94.5" x2="513.2" y2="94.5" stroke="#262626" stroke-width="1"/>
<circle cx="512.0" cy="96.6" r="1.1" fill="#0f74c8"/>
<circle cx="512.0" cy="100" r="1.1" fill="#0f74c8"/>
<rect x="510.55" y="60.4" width="2.90" height="15.20" fill="#d3e6f6" stroke="#0f74c8" stroke-width="1.1"/>
<line x1="510.55" y1="67.6" x2="513.45" y2="67.6" stroke="#0f74c8" stroke-width="1.1"/>
<line x1="519.6" y1="48.4" x2="519.6" y2="60" stroke="#262626" stroke-width="1.4"/>
<line x1="519.6" y1="75.6" x2="519.6" y2="97" stroke="#262626" stroke-width="1.4"/>
<line x1="518.4" y1="48.9" x2="520.8000000000001" y2="48.9" stroke="#262626" stroke-width="1"/>
<line x1="518.4" y1="96.5" x2="520.8000000000001" y2="96.5" stroke="#262626" stroke-width="1"/>
<circle cx="519.6" cy="99" r="1.1" fill="#e05a22"/>
<circle cx="519.6" cy="101" r="1.1" fill="#e05a22"/>
<rect x="518.15" y="60" width="2.90" height="15.60" fill="#f9e0d4" stroke="#e05a22" stroke-width="1.1"/>
<line x1="518.15" y1="67" x2="521.05" y2="67" stroke="#e05a22" stroke-width="1.1"/>
<line x1="527.0" y1="49.6" x2="527.0" y2="55" stroke="#262626" stroke-width="1.4"/>
<line x1="527.0" y1="71" x2="527.0" y2="93" stroke="#262626" stroke-width="1.4"/>
<line x1="525.8" y1="50.1" x2="528.2" y2="50.1" stroke="#262626" stroke-width="1"/>
<line x1="527.0" y1="94.00" x2="527.0" y2="101.00" stroke="#0f74c8" stroke-width="2.2" stroke-linecap="round"/>
<rect x="525.55" y="55" width="2.90" height="16.00" fill="#d3e6f6" stroke="#0f74c8" stroke-width="1.1"/>
<line x1="525.55" y1="61" x2="528.45" y2="61" stroke="#0f74c8" stroke-width="1.1"/>
<line x1="534.6" y1="48.4" x2="534.6" y2="55" stroke="#262626" stroke-width="1.4"/>
<line x1="534.6" y1="71" x2="534.6" y2="93" stroke="#262626" stroke-width="1.4"/>
<line x1="533.4" y1="48.9" x2="535.8000000000001" y2="48.9" stroke="#262626" stroke-width="1"/>
<line x1="534.6" y1="94.00" x2="534.6" y2="104.60" stroke="#e05a22" stroke-width="2.2" stroke-linecap="round"/>
<rect x="533.15" y="55" width="2.90" height="16.00" fill="#f9e0d4" stroke="#e05a22" stroke-width="1.1"/>
<line x1="533.15" y1="61" x2="536.05" y2="61" stroke="#e05a22" stroke-width="1.1"/>
<line x1="51.6" y1="258.4" x2="51.6" y2="265" stroke="#262626" stroke-width="1.4"/>
<line x1="51.6" y1="275.6" x2="51.6" y2="289" stroke="#262626" stroke-width="1.4"/>
<line x1="50.4" y1="258.9" x2="52.800000000000004" y2="258.9" stroke="#262626" stroke-width="1"/>
<line x1="51.6" y1="290.00" x2="51.6" y2="298.60" stroke="#0f74c8" stroke-width="2.2" stroke-linecap="round"/>
<rect x="49.55" y="265" width="4.10" height="10.60" fill="#d3e6f6" stroke="#0f74c8" stroke-width="1.1"/>
<line x1="49.55" y1="266.7" x2="53.65" y2="266.7" stroke="#0f74c8" stroke-width="1.1"/>
<line x1="63.4" y1="251.6" x2="63.4" y2="263.6" stroke="#262626" stroke-width="1.4"/>
<line x1="63.4" y1="274.6" x2="63.4" y2="290" stroke="#262626" stroke-width="1.4"/>
<line x1="62.199999999999996" y1="252.1" x2="64.6" y2="252.1" stroke="#262626" stroke-width="1"/>
<line x1="63.4" y1="291.00" x2="63.4" y2="301.00" stroke="#e05a22" stroke-width="2.2" stroke-linecap="round"/>
<rect x="61.35" y="263.6" width="4.10" height="11.00" fill="#f9e0d4" stroke="#e05a22" stroke-width="1.1"/>
<line x1="61.35" y1="266.2" x2="65.45" y2="266.2" stroke="#e05a22" stroke-width="1.1"/>
<line x1="75.0" y1="254" x2="75.0" y2="259" stroke="#262626" stroke-width="1.4"/>
<line x1="75.0" y1="271.6" x2="75.0" y2="289" stroke="#262626" stroke-width="1.4"/>
<line x1="73.8" y1="254.5" x2="76.2" y2="254.5" stroke="#262626" stroke-width="1"/>
<line x1="75.0" y1="290.00" x2="75.0" y2="297.40" stroke="#0f74c8" stroke-width="2.2" stroke-linecap="round"/>
<rect x="72.95" y="259" width="4.10" height="12.60" fill="#d3e6f6" stroke="#0f74c8" stroke-width="1.1"/>
<line x1="72.95" y1="261.5" x2="77.05" y2="261.5" stroke="#0f74c8" stroke-width="1.1"/>
<line x1="86.6" y1="250.4" x2="86.6" y2="258" stroke="#262626" stroke-width="1.4"/>
<line x1="86.6" y1="271" x2="86.6" y2="291" stroke="#262626" stroke-width="1.4"/>
<line x1="85.39999999999999" y1="250.9" x2="87.8" y2="250.9" stroke="#262626" stroke-width="1"/>
<line x1="86.6" y1="292.00" x2="86.6" y2="298.60" stroke="#e05a22" stroke-width="2.2" stroke-linecap="round"/>
<rect x="84.55" y="258" width="4.10" height="13.00" fill="#f9e0d4" stroke="#e05a22" stroke-width="1.1"/>
<line x1="84.55" y1="261.6" x2="88.65" y2="261.6" stroke="#e05a22" stroke-width="1.1"/>
<line x1="98.4" y1="250" x2="98.4" y2="250.8" stroke="#262626" stroke-width="1.4"/>
<line x1="98.4" y1="261.2" x2="98.4" y2="265.8" stroke="#262626" stroke-width="1.4"/>
<line x1="97.2" y1="250.5" x2="99.60000000000001" y2="250.5" stroke="#262626" stroke-width="1"/>
<line x1="97.2" y1="265.3" x2="99.60000000000001" y2="265.3" stroke="#262626" stroke-width="1"/>
<line x1="98.4" y1="281.00" x2="98.4" y2="281.00" stroke="#0f74c8" stroke-width="2.2" stroke-linecap="round"/>
<line x1="98.4" y1="286.00" x2="98.4" y2="291.40" stroke="#0f74c8" stroke-width="2.2" stroke-linecap="round"/>
<rect x="96.35" y="250.8" width="4.10" height="10.40" fill="#d3e6f6" stroke="#0f74c8" stroke-width="1.1"/>
<line x1="96.35" y1="252" x2="100.45" y2="252" stroke="#0f74c8" stroke-width="1.1"/>
<line x1="110.0" y1="249.4" x2="110.0" y2="250.6" stroke="#262626" stroke-width="1.4"/>
<line x1="110.0" y1="260.6" x2="110.0" y2="265.8" stroke="#262626" stroke-width="1.4"/>
<line x1="108.8" y1="249.9" x2="111.2" y2="249.9" stroke="#262626" stroke-width="1"/>
<line x1="108.8" y1="265.3" x2="111.2" y2="265.3" stroke="#262626" stroke-width="1"/>
<line x1="110.0" y1="278.40" x2="110.0" y2="279.00" stroke="#e05a22" stroke-width="2.2" stroke-linecap="round"/>
<line x1="110.0" y1="284.00" x2="110.0" y2="290.60" stroke="#e05a22" stroke-width="2.2" stroke-linecap="round"/>
<rect x="107.95" y="250.6" width="4.10" height="10.00" fill="#f9e0d4" stroke="#e05a22" stroke-width="1.1"/>
<line x1="107.95" y1="252.2" x2="112.05" y2="252.2" stroke="#e05a22" stroke-width="1.1"/>
<line x1="121.6" y1="250.4" x2="121.6" y2="251.2" stroke="#262626" stroke-width="1.4"/>
<line x1="121.6" y1="262" x2="121.6" y2="265.8" stroke="#262626" stroke-width="1.4"/>
<line x1="120.39999999999999" y1="250.9" x2="122.8" y2="250.9" stroke="#262626" stroke-width="1"/>
<line x1="120.39999999999999" y1="265.3" x2="122.8" y2="265.3" stroke="#262626" stroke-width="1"/>
<line x1="121.6" y1="280.60" x2="121.6" y2="281.00" stroke="#0f74c8" stroke-width="2.2" stroke-linecap="round"/>
<line x1="121.6" y1="286.00" x2="121.6" y2="292.00" stroke="#0f74c8" stroke-width="2.2" stroke-linecap="round"/>
<rect x="119.55" y="251.2" width="4.10" height="10.80" fill="#d3e6f6" stroke="#0f74c8" stroke-width="1.1"/>
<line x1="119.55" y1="252.4" x2="123.65" y2="252.4" stroke="#0f74c8" stroke-width="1.1"/>
<line x1="133.4" y1="250" x2="133.4" y2="251.2" stroke="#262626" stroke-width="1.4"/>
<line x1="133.4" y1="261.5" x2="133.4" y2="265.8" stroke="#262626" stroke-width="1.4"/>
<line x1="132.20000000000002" y1="250.5" x2="134.6" y2="250.5" stroke="#262626" stroke-width="1"/>
<line x1="132.20000000000002" y1="265.3" x2="134.6" y2="265.3" stroke="#262626" stroke-width="1"/>
<line x1="133.4" y1="278.00" x2="133.4" y2="278.60" stroke="#e05a22" stroke-width="2.2" stroke-linecap="round"/>
<line x1="133.4" y1="284.00" x2="133.4" y2="291.00" stroke="#e05a22" stroke-width="2.2" stroke-linecap="round"/>
<rect x="131.35" y="251.2" width="4.10" height="10.30" fill="#f9e0d4" stroke="#e05a22" stroke-width="1.1"/>
<line x1="131.35" y1="252.6" x2="135.45" y2="252.6" stroke="#e05a22" stroke-width="1.1"/>
<line x1="145.0" y1="250.8" x2="145.0" y2="252.4" stroke="#262626" stroke-width="1.4"/>
<line x1="145.0" y1="263.6" x2="145.0" y2="275.4" stroke="#262626" stroke-width="1.4"/>
<line x1="143.8" y1="251.3" x2="146.2" y2="251.3" stroke="#262626" stroke-width="1"/>
<line x1="143.8" y1="274.9" x2="146.2" y2="274.9" stroke="#262626" stroke-width="1"/>
<line x1="145.0" y1="285.40" x2="145.0" y2="292.00" stroke="#0f74c8" stroke-width="2.2" stroke-linecap="round"/>
<rect x="142.95" y="252.4" width="4.10" height="11.20" fill="#d3e6f6" stroke="#0f74c8" stroke-width="1.1"/>
<line x1="142.95" y1="257" x2="147.05" y2="257" stroke="#0f74c8" stroke-width="1.1"/>
<line x1="156.4" y1="249" x2="156.4" y2="252.4" stroke="#262626" stroke-width="1.4"/>
<line x1="156.4" y1="263" x2="156.4" y2="275.6" stroke="#262626" stroke-width="1.4"/>
<line x1="155.20000000000002" y1="249.5" x2="157.6" y2="249.5" stroke="#262626" stroke-width="1"/>
<line x1="155.20000000000002" y1="275.1" x2="157.6" y2="275.1" stroke="#262626" stroke-width="1"/>
<line x1="156.4" y1="282.60" x2="156.4" y2="291.40" stroke="#e05a22" stroke-width="2.2" stroke-linecap="round"/>
<rect x="154.35" y="252.4" width="4.10" height="10.60" fill="#f9e0d4" stroke="#e05a22" stroke-width="1.1"/>
<line x1="154.35" y1="256.4" x2="158.45" y2="256.4" stroke="#e05a22" stroke-width="1.1"/>
<line x1="168.0" y1="250" x2="168.0" y2="259.2" stroke="#262626" stroke-width="1.4"/>
<line x1="168.0" y1="270.6" x2="168.0" y2="286" stroke="#262626" stroke-width="1.4"/>
<line x1="166.8" y1="250.5" x2="169.2" y2="250.5" stroke="#262626" stroke-width="1"/>
<line x1="168.0" y1="287.00" x2="168.0" y2="295.40" stroke="#0f74c8" stroke-width="2.2" stroke-linecap="round"/>
<rect x="165.95" y="259.2" width="4.10" height="11.40" fill="#d3e6f6" stroke="#0f74c8" stroke-width="1.1"/>
<line x1="165.95" y1="263.3" x2="170.05" y2="263.3" stroke="#0f74c8" stroke-width="1.1"/>
<line x1="179.6" y1="243.6" x2="179.6" y2="257.6" stroke="#262626" stroke-width="1.4"/>
<line x1="179.6" y1="270.4" x2="179.6" y2="288" stroke="#262626" stroke-width="1.4"/>
<line x1="178.4" y1="244.1" x2="180.79999999999998" y2="244.1" stroke="#262626" stroke-width="1"/>
<line x1="179.6" y1="289.00" x2="179.6" y2="301.00" stroke="#e05a22" stroke-width="2.2" stroke-linecap="round"/>
<rect x="177.55" y="257.6" width="4.10" height="12.80" fill="#f9e0d4" stroke="#e05a22" stroke-width="1.1"/>
<line x1="177.55" y1="263.3" x2="181.65" y2="263.3" stroke="#e05a22" stroke-width="1.1"/>
<line x1="191.4" y1="248.4" x2="191.4" y2="249" stroke="#262626" stroke-width="1.4"/>
<line x1="191.4" y1="258.4" x2="191.4" y2="262.4" stroke="#262626" stroke-width="1.4"/>
<line x1="190.20000000000002" y1="248.9" x2="192.6" y2="248.9" stroke="#262626" stroke-width="1"/>
<line x1="190.20000000000002" y1="261.9" x2="192.6" y2="261.9" stroke="#262626" stroke-width="1"/>
<line x1="191.4" y1="277.80" x2="191.4" y2="277.80" stroke="#0f74c8" stroke-width="2.2" stroke-linecap="round"/>
<line x1="191.4" y1="285.40" x2="191.4" y2="292.00" stroke="#0f74c8" stroke-width="2.2" stroke-linecap="round"/>
<rect x="189.35" y="249" width="4.10" height="9.40" fill="#d3e6f6" stroke="#0f74c8" stroke-width="1.1"/>
<line x1="189.35" y1="251.5" x2="193.45" y2="251.5" stroke="#0f74c8" stroke-width="1.1"/>
<line x1="203.0" y1="248.4" x2="203.0" y2="249" stroke="#262626" stroke-width="1.4"/>
<line x1="203.0" y1="258" x2="203.0" y2="263" stroke="#262626" stroke-width="1.4"/>
<line x1="201.8" y1="248.9" x2="204.2" y2="248.9" stroke="#262626" stroke-width="1"/>
<line x1="201.8" y1="262.5" x2="204.2" y2="262.5" stroke="#262626" stroke-width="1"/>
<line x1="203.0" y1="274.60" x2="203.0" y2="277.00" stroke="#e05a22" stroke-width="2.2" stroke-linecap="round"/>
<line x1="203.0" y1="282.00" x2="203.0" y2="290.60" stroke="#e05a22" stroke-width="2.2" stroke-linecap="round"/>
<rect x="200.95" y="249" width="4.10" height="9.00" fill="#f9e0d4" stroke="#e05a22" stroke-width="1.1"/>
<line x1="200.95" y1="251.5" x2="205.05" y2="251.5" stroke="#e05a22" stroke-width="1.1"/>
<line x1="214.6" y1="249" x2="214.6" y2="254.4" stroke="#262626" stroke-width="1.4"/>
<line x1="214.6" y1="265.6" x2="214.6" y2="283" stroke="#262626" stroke-width="1.4"/>
<line x1="213.4" y1="249.5" x2="215.79999999999998" y2="249.5" stroke="#262626" stroke-width="1"/>
<line x1="214.6" y1="284.00" x2="214.6" y2="297.00" stroke="#0f74c8" stroke-width="2.2" stroke-linecap="round"/>
<rect x="212.55" y="254.4" width="4.10" height="11.20" fill="#d3e6f6" stroke="#0f74c8" stroke-width="1.1"/>
<line x1="212.55" y1="257" x2="216.65" y2="257" stroke="#0f74c8" stroke-width="1.1"/>
<line x1="226.4" y1="246" x2="226.4" y2="253.6" stroke="#262626" stroke-width="1.4"/>
<line x1="226.4" y1="265" x2="226.4" y2="282" stroke="#262626" stroke-width="1.4"/>
<line x1="225.20000000000002" y1="246.5" x2="227.6" y2="246.5" stroke="#262626" stroke-width="1"/>
<line x1="226.4" y1="283.00" x2="226.4" y2="298.00" stroke="#e05a22" stroke-width="2.2" stroke-linecap="round"/>
<rect x="224.35" y="253.6" width="4.10" height="11.40" fill="#f9e0d4" stroke="#e05a22" stroke-width="1.1"/>
<line x1="224.35" y1="259" x2="228.45" y2="259" stroke="#e05a22" stroke-width="1.1"/>
<line x1="238.0" y1="258.4" x2="238.0" y2="265" stroke="#262626" stroke-width="1.4"/>
<line x1="238.0" y1="276.4" x2="238.0" y2="292" stroke="#262626" stroke-width="1.4"/>
<line x1="236.8" y1="258.9" x2="239.2" y2="258.9" stroke="#262626" stroke-width="1"/>
<line x1="238.0" y1="293.00" x2="238.0" y2="295.40" stroke="#0f74c8" stroke-width="2.2" stroke-linecap="round"/>
<rect x="235.95" y="265" width="4.10" height="11.40" fill="#d3e6f6" stroke="#0f74c8" stroke-width="1.1"/>
<line x1="235.95" y1="268" x2="240.05" y2="268" stroke="#0f74c8" stroke-width="1.1"/>
<line x1="249.4" y1="253.6" x2="249.4" y2="263.6" stroke="#262626" stroke-width="1.4"/>
<line x1="249.4" y1="275.6" x2="249.4" y2="292.4" stroke="#262626" stroke-width="1.4"/>
<line x1="248.20000000000002" y1="254.1" x2="250.6" y2="254.1" stroke="#262626" stroke-width="1"/>
<line x1="249.4" y1="293.40" x2="249.4" y2="299.00" stroke="#e05a22" stroke-width="2.2" stroke-linecap="round"/>
<rect x="247.35" y="263.6" width="4.10" height="12.00" fill="#f9e0d4" stroke="#e05a22" stroke-width="1.1"/>
<line x1="247.35" y1="268" x2="251.45" y2="268" stroke="#e05a22" stroke-width="1.1"/>
<line x1="261.0" y1="248.4" x2="261.0" y2="249" stroke="#262626" stroke-width="1.4"/>
<line x1="261.0" y1="259.4" x2="261.0" y2="266" stroke="#262626" stroke-width="1.4"/>
<line x1="259.8" y1="248.9" x2="262.2" y2="248.9" stroke="#262626" stroke-width="1"/>
<line x1="259.8" y1="265.5" x2="262.2" y2="265.5" stroke="#262626" stroke-width="1"/>
<line x1="261.0" y1="275.40" x2="261.0" y2="278.00" stroke="#0f74c8" stroke-width="2.2" stroke-linecap="round"/>
<rect x="258.95" y="249" width="4.10" height="10.40" fill="#d3e6f6" stroke="#0f74c8" stroke-width="1.1"/>
<line x1="258.95" y1="252.4" x2="263.05" y2="252.4" stroke="#0f74c8" stroke-width="1.1"/>
<line x1="272.6" y1="247" x2="272.6" y2="249" stroke="#262626" stroke-width="1.4"/>
<line x1="272.6" y1="259" x2="272.6" y2="266.4" stroke="#262626" stroke-width="1.4"/>
<line x1="271.40000000000003" y1="247.5" x2="273.8" y2="247.5" stroke="#262626" stroke-width="1"/>
<line x1="271.40000000000003" y1="265.9" x2="273.8" y2="265.9" stroke="#262626" stroke-width="1"/>
<line x1="272.6" y1="274.00" x2="272.6" y2="279.00" stroke="#e05a22" stroke-width="2.2" stroke-linecap="round"/>
<rect x="270.55" y="249" width="4.10" height="10.00" fill="#f9e0d4" stroke="#e05a22" stroke-width="1.1"/>
<line x1="270.55" y1="253" x2="274.65" y2="253" stroke="#e05a22" stroke-width="1.1"/>
<line x1="284.4" y1="257" x2="284.4" y2="258.4" stroke="#262626" stroke-width="1.4"/>
<line x1="284.4" y1="271.6" x2="284.4" y2="291" stroke="#262626" stroke-width="1.4"/>
<line x1="283.2" y1="257.5" x2="285.59999999999997" y2="257.5" stroke="#262626" stroke-width="1"/>
<line x1="284.4" y1="292.00" x2="284.4" y2="293.00" stroke="#0f74c8" stroke-width="2.2" stroke-linecap="round"/>
<rect x="282.35" y="258.4" width="4.10" height="13.20" fill="#d3e6f6" stroke="#0f74c8" stroke-width="1.1"/>
<line x1="282.35" y1="261" x2="286.45" y2="261" stroke="#0f74c8" stroke-width="1.1"/>
<line x1="296.0" y1="255" x2="296.0" y2="257.6" stroke="#262626" stroke-width="1.4"/>
<line x1="296.0" y1="271" x2="296.0" y2="290" stroke="#262626" stroke-width="1.4"/>
<line x1="294.8" y1="255.5" x2="297.2" y2="255.5" stroke="#262626" stroke-width="1"/>
<line x1="296.0" y1="291.00" x2="296.0" y2="294.00" stroke="#e05a22" stroke-width="2.2" stroke-linecap="round"/>
<rect x="293.95" y="257.6" width="4.10" height="13.40" fill="#f9e0d4" stroke="#e05a22" stroke-width="1.1"/>
<line x1="293.95" y1="261" x2="298.05" y2="261" stroke="#e05a22" stroke-width="1.1"/>
<line x1="307.6" y1="251.6" x2="307.6" y2="252.4" stroke="#262626" stroke-width="1.4"/>
<line x1="307.6" y1="263" x2="307.6" y2="268" stroke="#262626" stroke-width="1.4"/>
<line x1="306.40000000000003" y1="252.1" x2="308.8" y2="252.1" stroke="#262626" stroke-width="1"/>
<line x1="306.40000000000003" y1="267.5" x2="308.8" y2="267.5" stroke="#262626" stroke-width="1"/>
<line x1="307.6" y1="287.40" x2="307.6" y2="292.00" stroke="#0f74c8" stroke-width="2.2" stroke-linecap="round"/>
<rect x="305.55" y="252.4" width="4.10" height="10.60" fill="#d3e6f6" stroke="#0f74c8" stroke-width="1.1"/>
<line x1="305.55" y1="255.6" x2="309.65" y2="255.6" stroke="#0f74c8" stroke-width="1.1"/>
<line x1="319.4" y1="250.4" x2="319.4" y2="252.4" stroke="#262626" stroke-width="1.4"/>
<line x1="319.4" y1="262.4" x2="319.4" y2="269" stroke="#262626" stroke-width="1.4"/>
<line x1="318.2" y1="250.9" x2="320.59999999999997" y2="250.9" stroke="#262626" stroke-width="1"/>
<line x1="318.2" y1="268.5" x2="320.59999999999997" y2="268.5" stroke="#262626" stroke-width="1"/>
<line x1="319.4" y1="285.40" x2="319.4" y2="291.40" stroke="#e05a22" stroke-width="2.2" stroke-linecap="round"/>
<rect x="317.35" y="252.4" width="4.10" height="10.00" fill="#f9e0d4" stroke="#e05a22" stroke-width="1.1"/>
<line x1="317.35" y1="255.6" x2="321.45" y2="255.6" stroke="#e05a22" stroke-width="1.1"/>
<line x1="331.0" y1="255" x2="331.0" y2="257.6" stroke="#262626" stroke-width="1.4"/>
<line x1="331.0" y1="272" x2="331.0" y2="293" stroke="#262626" stroke-width="1.4"/>
<line x1="329.8" y1="255.5" x2="332.2" y2="255.5" stroke="#262626" stroke-width="1"/>
<line x1="329.8" y1="292.5" x2="332.2" y2="292.5" stroke="#262626" stroke-width="1"/>
<rect x="328.95" y="257.6" width="4.10" height="14.40" fill="#d3e6f6" stroke="#0f74c8" stroke-width="1.1"/>
<line x1="328.95" y1="260" x2="333.05" y2="260" stroke="#0f74c8" stroke-width="1.1"/>
<line x1="342.6" y1="253.6" x2="342.6" y2="257" stroke="#262626" stroke-width="1.4"/>
<line x1="342.6" y1="271.3" x2="342.6" y2="292.4" stroke="#262626" stroke-width="1.4"/>
<line x1="341.40000000000003" y1="254.1" x2="343.8" y2="254.1" stroke="#262626" stroke-width="1"/>
<line x1="341.40000000000003" y1="291.9" x2="343.8" y2="291.9" stroke="#262626" stroke-width="1"/>
<circle cx="342.6" cy="293.5" r="1.1" fill="#e05a22"/>
<rect x="340.55" y="257" width="4.10" height="14.30" fill="#f9e0d4" stroke="#e05a22" stroke-width="1.1"/>
<line x1="340.55" y1="258.5" x2="344.65" y2="258.5" stroke="#e05a22" stroke-width="1.1"/>
<line x1="354.0" y1="257.6" x2="354.0" y2="259" stroke="#262626" stroke-width="1.4"/>
<line x1="354.0" y1="271.6" x2="354.0" y2="289" stroke="#262626" stroke-width="1.4"/>
<line x1="352.8" y1="258.1" x2="355.2" y2="258.1" stroke="#262626" stroke-width="1"/>
<line x1="354.0" y1="290.00" x2="354.0" y2="294.60" stroke="#0f74c8" stroke-width="2.2" stroke-linecap="round"/>
<rect x="351.95" y="259" width="4.10" height="12.60" fill="#d3e6f6" stroke="#0f74c8" stroke-width="1.1"/>
<line x1="351.95" y1="260.6" x2="356.05" y2="260.6" stroke="#0f74c8" stroke-width="1.1"/>
<line x1="365.6" y1="255.6" x2="365.6" y2="258.4" stroke="#262626" stroke-width="1.4"/>
<line x1="365.6" y1="271.6" x2="365.6" y2="288.4" stroke="#262626" stroke-width="1.4"/>
<line x1="364.40000000000003" y1="256.1" x2="366.8" y2="256.1" stroke="#262626" stroke-width="1"/>
<line x1="365.6" y1="289.40" x2="365.6" y2="294.60" stroke="#e05a22" stroke-width="2.2" stroke-linecap="round"/>
<rect x="363.55" y="258.4" width="4.10" height="13.20" fill="#f9e0d4" stroke="#e05a22" stroke-width="1.1"/>
<line x1="363.55" y1="261" x2="367.65" y2="261" stroke="#e05a22" stroke-width="1.1"/>
<line x1="377.4" y1="248" x2="377.4" y2="249" stroke="#262626" stroke-width="1.4"/>
<line x1="377.4" y1="259" x2="377.4" y2="266.4" stroke="#262626" stroke-width="1.4"/>
<line x1="376.2" y1="248.5" x2="378.59999999999997" y2="248.5" stroke="#262626" stroke-width="1"/>
<line x1="376.2" y1="265.9" x2="378.59999999999997" y2="265.9" stroke="#262626" stroke-width="1"/>
<line x1="377.4" y1="280.00" x2="377.4" y2="294.60" stroke="#0f74c8" stroke-width="2.2" stroke-linecap="round"/>
<rect x="375.35" y="249" width="4.10" height="10.00" fill="#d3e6f6" stroke="#0f74c8" stroke-width="1.1"/>
<line x1="375.35" y1="252" x2="379.45" y2="252" stroke="#0f74c8" stroke-width="1.1"/>
<line x1="389.0" y1="246" x2="389.0" y2="248.4" stroke="#262626" stroke-width="1.4"/>
<line x1="389.0" y1="258.4" x2="389.0" y2="268" stroke="#262626" stroke-width="1.4"/>
<line x1="387.8" y1="246.5" x2="390.2" y2="246.5" stroke="#262626" stroke-width="1"/>
<line x1="387.8" y1="267.5" x2="390.2" y2="267.5" stroke="#262626" stroke-width="1"/>
<line x1="389.0" y1="276.60" x2="389.0" y2="294.60" stroke="#e05a22" stroke-width="2.2" stroke-linecap="round"/>
<rect x="386.95" y="248.4" width="4.10" height="10.00" fill="#f9e0d4" stroke="#e05a22" stroke-width="1.1"/>
<line x1="386.95" y1="251" x2="391.05" y2="251" stroke="#e05a22" stroke-width="1.1"/>
<line x1="400.6" y1="255.6" x2="400.6" y2="263.6" stroke="#262626" stroke-width="1.4"/>
<line x1="400.6" y1="275" x2="400.6" y2="290" stroke="#262626" stroke-width="1.4"/>
<line x1="399.40000000000003" y1="256.1" x2="401.8" y2="256.1" stroke="#262626" stroke-width="1"/>
<line x1="400.6" y1="291.00" x2="400.6" y2="298.00" stroke="#0f74c8" stroke-width="2.2" stroke-linecap="round"/>
<rect x="398.55" y="263.6" width="4.10" height="11.40" fill="#d3e6f6" stroke="#0f74c8" stroke-width="1.1"/>
<line x1="398.55" y1="267" x2="402.65" y2="267" stroke="#0f74c8" stroke-width="1.1"/>
<line x1="412.4" y1="248.4" x2="412.4" y2="261.6" stroke="#262626" stroke-width="1.4"/>
<line x1="412.4" y1="274.4" x2="412.4" y2="292.4" stroke="#262626" stroke-width="1.4"/>
<line x1="411.2" y1="248.9" x2="413.59999999999997" y2="248.9" stroke="#262626" stroke-width="1"/>
<line x1="412.4" y1="293.40" x2="412.4" y2="294.00" stroke="#e05a22" stroke-width="2.2" stroke-linecap="round"/>
<circle cx="412.4" cy="297.6" r="1.1" fill="#e05a22"/>
<rect x="410.35" y="261.6" width="4.10" height="12.80" fill="#f9e0d4" stroke="#e05a22" stroke-width="1.1"/>
<line x1="410.35" y1="266.4" x2="414.45" y2="266.4" stroke="#e05a22" stroke-width="1.1"/>
<line x1="424.0" y1="248.4" x2="424.0" y2="249.6" stroke="#262626" stroke-width="1.4"/>
<line x1="424.0" y1="262" x2="424.0" y2="279.6" stroke="#262626" stroke-width="1.4"/>
<line x1="422.8" y1="248.9" x2="425.2" y2="248.9" stroke="#262626" stroke-width="1"/>
<line x1="424.0" y1="280.60" x2="424.0" y2="293.40" stroke="#0f74c8" stroke-width="2.2" stroke-linecap="round"/>
<rect x="421.95" y="249.6" width="4.10" height="12.40" fill="#d3e6f6" stroke="#0f74c8" stroke-width="1.1"/>
<line x1="421.95" y1="252" x2="426.05" y2="252" stroke="#0f74c8" stroke-width="1.1"/>
<line x1="435.6" y1="245.6" x2="435.6" y2="249" stroke="#262626" stroke-width="1.4"/>
<line x1="435.6" y1="261.6" x2="435.6" y2="278.4" stroke="#262626" stroke-width="1.4"/>
<line x1="434.40000000000003" y1="246.1" x2="436.8" y2="246.1" stroke="#262626" stroke-width="1"/>
<line x1="435.6" y1="279.40" x2="435.6" y2="293.00" stroke="#e05a22" stroke-width="2.2" stroke-linecap="round"/>
<rect x="433.55" y="249" width="4.10" height="12.60" fill="#f9e0d4" stroke="#e05a22" stroke-width="1.1"/>
<line x1="433.55" y1="252.4" x2="437.65" y2="252.4" stroke="#e05a22" stroke-width="1.1"/>
<line x1="447.4" y1="249.6" x2="447.4" y2="252.4" stroke="#262626" stroke-width="1.4"/>
<line x1="447.4" y1="264" x2="447.4" y2="275.6" stroke="#262626" stroke-width="1.4"/>
<line x1="446.2" y1="250.1" x2="448.59999999999997" y2="250.1" stroke="#262626" stroke-width="1"/>
<line x1="446.2" y1="275.1" x2="448.59999999999997" y2="275.1" stroke="#262626" stroke-width="1"/>
<line x1="447.4" y1="286.00" x2="447.4" y2="295.00" stroke="#0f74c8" stroke-width="2.2" stroke-linecap="round"/>
<rect x="445.35" y="252.4" width="4.10" height="11.60" fill="#d3e6f6" stroke="#0f74c8" stroke-width="1.1"/>
<line x1="445.35" y1="255.6" x2="449.45" y2="255.6" stroke="#0f74c8" stroke-width="1.1"/>
<line x1="459.0" y1="247.6" x2="459.0" y2="252.4" stroke="#262626" stroke-width="1.4"/>
<line x1="459.0" y1="263.4" x2="459.0" y2="273" stroke="#262626" stroke-width="1.4"/>
<line x1="457.8" y1="248.1" x2="460.2" y2="248.1" stroke="#262626" stroke-width="1"/>
<line x1="457.8" y1="272.5" x2="460.2" y2="272.5" stroke="#262626" stroke-width="1"/>
<line x1="459.0" y1="283.40" x2="459.0" y2="294.00" stroke="#e05a22" stroke-width="2.2" stroke-linecap="round"/>
<rect x="456.95" y="252.4" width="4.10" height="11.00" fill="#f9e0d4" stroke="#e05a22" stroke-width="1.1"/>
<line x1="456.95" y1="255.6" x2="461.05" y2="255.6" stroke="#e05a22" stroke-width="1.1"/>
<line x1="470.4" y1="253" x2="470.4" y2="255" stroke="#262626" stroke-width="1.4"/>
<line x1="470.4" y1="266.4" x2="470.4" y2="274.4" stroke="#262626" stroke-width="1.4"/>
<line x1="469.2" y1="253.5" x2="471.59999999999997" y2="253.5" stroke="#262626" stroke-width="1"/>
<line x1="469.2" y1="273.9" x2="471.59999999999997" y2="273.9" stroke="#262626" stroke-width="1"/>
<line x1="470.4" y1="286.00" x2="470.4" y2="293.40" stroke="#0f74c8" stroke-width="2.2" stroke-linecap="round"/>
<rect x="468.35" y="255" width="4.10" height="11.40" fill="#d3e6f6" stroke="#0f74c8" stroke-width="1.1"/>
<line x1="468.35" y1="258" x2="472.45" y2="258" stroke="#0f74c8" stroke-width="1.1"/>
<line x1="482.0" y1="250.4" x2="482.0" y2="255" stroke="#262626" stroke-width="1.4"/>
<line x1="482.0" y1="266.4" x2="482.0" y2="283" stroke="#262626" stroke-width="1.4"/>
<line x1="480.8" y1="250.9" x2="483.2" y2="250.9" stroke="#262626" stroke-width="1"/>
<line x1="482.0" y1="284.00" x2="482.0" y2="294.00" stroke="#e05a22" stroke-width="2.2" stroke-linecap="round"/>
<rect x="479.95" y="255" width="4.10" height="11.40" fill="#f9e0d4" stroke="#e05a22" stroke-width="1.1"/>
<line x1="479.95" y1="258" x2="484.05" y2="258" stroke="#e05a22" stroke-width="1.1"/>
<line x1="493.6" y1="252" x2="493.6" y2="254.4" stroke="#262626" stroke-width="1.4"/>
<line x1="493.6" y1="266.4" x2="493.6" y2="275.6" stroke="#262626" stroke-width="1.4"/>
<line x1="492.40000000000003" y1="252.5" x2="494.8" y2="252.5" stroke="#262626" stroke-width="1"/>
<line x1="492.40000000000003" y1="275.1" x2="494.8" y2="275.1" stroke="#262626" stroke-width="1"/>
<line x1="493.6" y1="285.00" x2="493.6" y2="293.40" stroke="#0f74c8" stroke-width="2.2" stroke-linecap="round"/>
<rect x="491.55" y="254.4" width="4.10" height="12.00" fill="#d3e6f6" stroke="#0f74c8" stroke-width="1.1"/>
<line x1="491.55" y1="257.6" x2="495.65" y2="257.6" stroke="#0f74c8" stroke-width="1.1"/>
<line x1="505.4" y1="250.4" x2="505.4" y2="254" stroke="#262626" stroke-width="1.4"/>
<line x1="505.4" y1="266" x2="505.4" y2="275.6" stroke="#262626" stroke-width="1.4"/>
<line x1="504.2" y1="250.9" x2="506.59999999999997" y2="250.9" stroke="#262626" stroke-width="1"/>
<line x1="504.2" y1="275.1" x2="506.59999999999997" y2="275.1" stroke="#262626" stroke-width="1"/>
<line x1="505.4" y1="284.00" x2="505.4" y2="294.60" stroke="#e05a22" stroke-width="2.2" stroke-linecap="round"/>
<rect x="503.35" y="254" width="4.10" height="12.00" fill="#f9e0d4" stroke="#e05a22" stroke-width="1.1"/>
<line x1="503.35" y1="257" x2="507.45" y2="257" stroke="#e05a22" stroke-width="1.1"/>
<line x1="517.0" y1="244" x2="517.0" y2="253" stroke="#262626" stroke-width="1.4"/>
<line x1="517.0" y1="264.4" x2="517.0" y2="280" stroke="#262626" stroke-width="1.4"/>
<line x1="515.8" y1="244.5" x2="518.2" y2="244.5" stroke="#262626" stroke-width="1"/>
<line x1="517.0" y1="281.00" x2="517.0" y2="294.60" stroke="#0f74c8" stroke-width="2.2" stroke-linecap="round"/>
<rect x="514.95" y="253" width="4.10" height="11.40" fill="#d3e6f6" stroke="#0f74c8" stroke-width="1.1"/>
<line x1="514.95" y1="257.6" x2="519.05" y2="257.6" stroke="#0f74c8" stroke-width="1.1"/>
<line x1="528.6" y1="241.6" x2="528.6" y2="252.4" stroke="#262626" stroke-width="1.4"/>
<line x1="528.6" y1="267" x2="528.6" y2="286" stroke="#262626" stroke-width="1.4"/>
<line x1="527.4" y1="242.1" x2="529.8000000000001" y2="242.1" stroke="#262626" stroke-width="1"/>
<line x1="527.4" y1="285.5" x2="529.8000000000001" y2="285.5" stroke="#262626" stroke-width="1"/>
<circle cx="528.6" cy="288" r="1.1" fill="#e05a22"/>
<circle cx="528.6" cy="293" r="1.1" fill="#e05a22"/>
<rect x="526.55" y="252.4" width="4.10" height="14.60" fill="#f9e0d4" stroke="#e05a22" stroke-width="1.1"/>
<line x1="526.55" y1="259" x2="530.65" y2="259" stroke="#e05a22" stroke-width="1.1"/>
<text transform="translate(70.00,159.8) rotate(-30)" text-anchor="end" class="xl">Embedding-based</text>
<text transform="translate(93.85,159.8) rotate(-30)" text-anchor="end" class="xl">FFT-based</text>
<text transform="translate(117.70,159.8) rotate(-30)" text-anchor="end" class="xl">One-Hot</text>
<text transform="translate(141.55,159.8) rotate(-30)" text-anchor="end" class="xl">Physicochemcal-based</text>
<text transform="translate(186.70,162.2) rotate(-30)" text-anchor="end" class="xl">DecisionTree</text>
<text transform="translate(203.80,162.2) rotate(-30)" text-anchor="end" class="xl">ExtraTrees</text>
<text transform="translate(220.90,162.2) rotate(-30)" text-anchor="end" class="xl">Hist Gradient Boosting</text>
<text transform="translate(238.00,162.2) rotate(-30)" text-anchor="end" class="xl">KNeighbors</text>
<text transform="translate(255.10,162.2) rotate(-30)" text-anchor="end" class="xl">RandomForest</text>
<text transform="translate(272.20,162.2) rotate(-30)" text-anchor="end" class="xl">XGBoost</text>
<text transform="translate(317.50,162.2) rotate(-30)" text-anchor="end" class="xl">DecisionTree</text>
<text transform="translate(334.56,162.2) rotate(-30)" text-anchor="end" class="xl">ExtraTrees</text>
<text transform="translate(351.62,162.2) rotate(-30)" text-anchor="end" class="xl">Hist Gradient Boosting</text>
<text transform="translate(368.68,162.2) rotate(-30)" text-anchor="end" class="xl">KNeighbors</text>
<text transform="translate(385.74,162.2) rotate(-30)" text-anchor="end" class="xl">RandomForest</text>
<text transform="translate(402.80,162.2) rotate(-30)" text-anchor="end" class="xl">XGBoost</text>
<text transform="translate(444.50,163.5) rotate(-30)" text-anchor="end" class="xl">esm1b</text>
<text transform="translate(459.50,163.5) rotate(-30)" text-anchor="end" class="xl">prottrans_albert</text>
<text transform="translate(474.50,163.5) rotate(-30)" text-anchor="end" class="xl">prottrans_bert</text>
<text transform="translate(489.50,163.5) rotate(-30)" text-anchor="end" class="xl">prottrans_t5bdf</text>
<text transform="translate(504.50,163.5) rotate(-30)" text-anchor="end" class="xl">prottrans_uniref</text>
<text transform="translate(519.50,163.5) rotate(-30)" text-anchor="end" class="xl">prottrans_xlnet</text>
<text transform="translate(534.50,163.5) rotate(-30)" text-anchor="end" class="xl">prottrans_xlu50</text>
<text transform="translate(61.50,358.1) rotate(-30)" text-anchor="end" class="xl">Anti angiogenic</text>
<text transform="translate(84.77,358.1) rotate(-30)" text-anchor="end" class="xl">Anti diabetic</text>
<text transform="translate(108.03,358.1) rotate(-30)" text-anchor="end" class="xl">Anti gram neg</text>
<text transform="translate(131.30,358.1) rotate(-30)" text-anchor="end" class="xl">Anti gram pos</text>
<text transform="translate(154.56,358.1) rotate(-30)" text-anchor="end" class="xl">Anti inflamatory</text>
<text transform="translate(177.82,358.1) rotate(-30)" text-anchor="end" class="xl">Anti malarial</text>
<text transform="translate(201.09,358.1) rotate(-30)" text-anchor="end" class="xl">Anti mammalian cell</text>
<text transform="translate(224.36,358.1) rotate(-30)" text-anchor="end" class="xl">Anti methicillin-resistant s aureus</text>
<text transform="translate(247.62,358.1) rotate(-30)" text-anchor="end" class="xl">Anti oxidative</text>
<text transform="translate(270.88,358.1) rotate(-30)" text-anchor="end" class="xl">Antibacterial</text>
<text transform="translate(294.15,358.1) rotate(-30)" text-anchor="end" class="xl">Antifungal</text>
<text transform="translate(317.42,358.1) rotate(-30)" text-anchor="end" class="xl">Antimicrobial</text>
<text transform="translate(340.68,358.1) rotate(-30)" text-anchor="end" class="xl">Antiparasitic</text>
<text transform="translate(363.94,358.1) rotate(-30)" text-anchor="end" class="xl">Antiviral</text>
<text transform="translate(387.21,358.1) rotate(-30)" text-anchor="end" class="xl">Anuran defense</text>
<text transform="translate(410.48,358.1) rotate(-30)" text-anchor="end" class="xl">Blood brain barrier penetrating</text>
<text transform="translate(433.74,358.1) rotate(-30)" text-anchor="end" class="xl">Cell cell communication</text>
<text transform="translate(457.00,358.1) rotate(-30)" text-anchor="end" class="xl">Cell penetrating</text>
<text transform="translate(480.27,358.1) rotate(-30)" text-anchor="end" class="xl">Drug delivery vehicle</text>
<text transform="translate(503.54,358.1) rotate(-30)" text-anchor="end" class="xl">Neuropeptide</text>
<text transform="translate(526.80,358.1) rotate(-30)" text-anchor="end" class="xl">Quorum sensing</text>
<rect x="217.8" y="312.2" width="144.7" height="16.3" rx="2.5" fill="#ebebeb"/>
<text x="223.5" y="323" class="lg">stage:</text>
<line x1="257.5" y1="313.5" x2="257.5" y2="327" stroke="#262626" stroke-width="1.1"/><rect x="255.2" y="316.3" width="4.6" height="7.6" fill="#d3e6f6" stroke="#0f74c8" stroke-width="1.1"/>
<text x="268" y="323" class="lg">Training</text>
<line x1="310.5" y1="313.5" x2="310.5" y2="327" stroke="#262626" stroke-width="1.1"/><rect x="308.2" y="316.3" width="4.6" height="7.6" fill="#f9e0d4" stroke="#e05a22" stroke-width="1.1"/>
<text x="320.5" y="323" class="lg">Validation</text>
</svg></body></html>
